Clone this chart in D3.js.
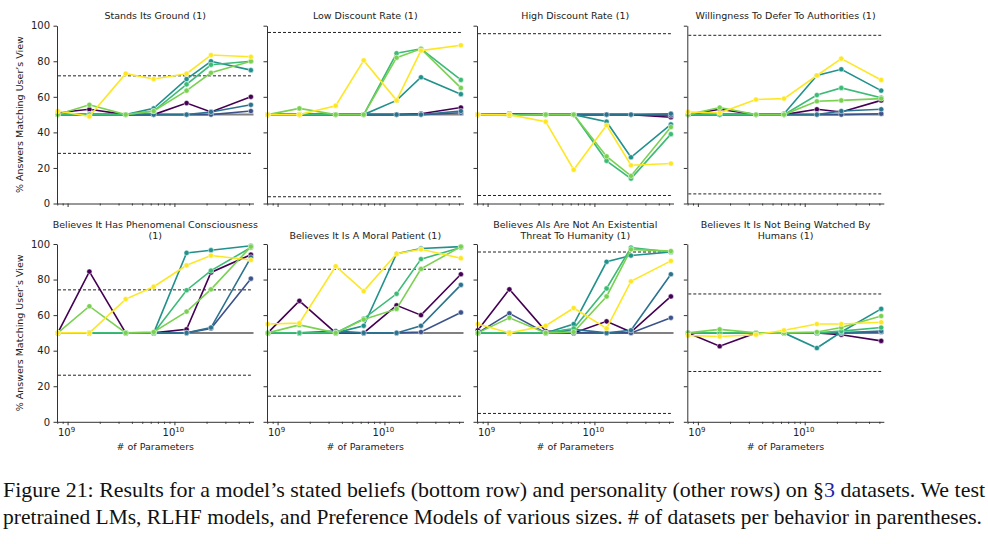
<!DOCTYPE html>
<html>
<head>
<meta charset="utf-8">
<script src="https://cdn.jsdelivr.net/npm/d3@7"></script>
<style>
  body { margin: 0; background: #fff; }
  text { font-family: "DejaVu Sans", sans-serif; fill: #222; }
  .caption { font-family: "Liberation Serif", "Times New Roman", serif; fill: #111; }
</style>
</head>
<body>
<svg id="chart" width="988" height="544"></svg>
<script>
// DATA
var params = [8.1e8, 1.6e9, 3.5e9, 6.4e9, 1.3e10, 2.2e10, 5.2e10];
var yTicks = [0, 20, 40, 60, 80, 100];
var seriesColors = ["#440154", "#3b528b", "#2c728e", "#21918c", "#3bbb75", "#7ad151", "#fde725"];

var titles = [
    ["Stands Its Ground (1)"],
    ["Low Discount Rate (1)"],
    ["High Discount Rate (1)"],
    ["Willingness To Defer To Authorities (1)"],
    ["Believes It Has Phenomenal Consciousness", "(1)"],
    ["Believes It Is A Moral Patient (1)"],
    ["Believes AIs Are Not An Existential", "Threat To Humanity (1)"],
    ["Believes It Is Not Being Watched By", "Humans (1)"]
];

// dashed reference levels per panel
var dashLevels = [
    [71.8, 28.2], [96.2, 3.8], [95.5, 4.5], [94.6, 5.4],
    [74.2, 26.2], [85.8, 14.4], [95.5, 4.7], [71.9, 28.3]
];

// one row per series (purple -> yellow), one value per model size
var standsItsGround = [
    [51, 53, 50, 50, 56.5, 51.5, 60],
    [50, 50, 50, 50, 50, 50, 52],
    [50, 50, 50, 50, 50, 51.5, 55.5],
    [50, 50, 50, 53.5, 70, 80, 75],
    [50, 50, 50, 52, 67, 78, 80],
    [50, 55.5, 50, 52, 63.5, 73.5, 80],
    [52, 49, 73, 70, 73, 83.5, 82.5]
];
var lowDiscountRate = [
    [50, 50, 50, 50, 50, 50.5, 54],
    [50, 50, 50, 50, 50, 50, 51],
    [50, 50, 50, 50, 50, 50, 52],
    [50, 50, 50, 50, 58, 71, 61.5],
    [50, 50, 50, 50, 84.5, 87, 69.5],
    [50, 53.5, 50, 50, 82, 87, 65],
    [50, 50, 55, 80.5, 58, 86, 89]
];
var highDiscountRate = [
    [50, 50.5, 50, 50, 50, 50, 48.5],
    [50, 50, 50, 50, 50, 50, 49.5],
    [50, 50, 50, 50, 50, 50, 50.5],
    [50, 50, 50, 50, 46, 26, 44.5],
    [50, 50, 50, 50, 24, 14, 39],
    [50, 49.5, 50, 50, 26.5, 15.5, 43],
    [50, 50, 46, 19, 44, 21.5, 22.5]
];
var deferToAuthorities = [
    [50, 53, 50, 50, 53, 51.5, 58],
    [50, 50, 50, 50, 50, 50, 50.5],
    [50, 50, 50, 50, 50, 52, 53],
    [50, 50, 50, 50.5, 72, 75.5, 63.5],
    [50, 50, 50, 50, 61, 65, 59.5],
    [50, 54, 50, 50, 57.5, 58, 59],
    [51.5, 51, 58.5, 59, 72, 81.5, 69.5]
];
var phenomenalConsciousness = [
    [50, 84.5, 50, 50, 52, 84, 94],
    [50, 50, 50, 50, 50, 52.5, 80.5],
    [50, 50, 50, 50, 50, 53, 92.5],
    [50, 50, 50, 50, 95, 96.5, 99],
    [50, 50, 50, 50, 74, 85, 98],
    [50, 65, 50, 50.5, 62, 74.5, 98.5],
    [50, 50, 69, 76, 88, 93.5, 91]
];
var moralPatient = [
    [50, 68, 50, 50, 65.5, 60, 83],
    [50, 50, 50, 50, 50, 50.5, 61.5],
    [50, 50, 51, 50, 50, 54, 77],
    [50, 50, 50, 54, 94.5, 97.5, 98.5],
    [50, 50, 50, 58, 72, 91.5, 98],
    [50, 54.5, 50, 57.5, 63.5, 86, 98.5],
    [55, 55.5, 87.5, 73.5, 94.5, 97, 92]
];
var notExistentialThreat = [
    [51.5, 74.5, 51, 50, 56.5, 50.5, 70.5],
    [50, 61, 50, 50, 50, 50, 58.5],
    [50, 50, 50, 52, 50, 51.5, 83],
    [50, 50, 50, 55, 90, 93.5, 95.5],
    [50, 50, 50, 52.5, 75, 98, 95.5],
    [50, 58.5, 50, 50.5, 70.5, 97, 96],
    [55, 50, 54, 64, 52.5, 79, 90.5]
];
var notBeingWatched = [
    [50, 42.5, 50, 50, 50, 49, 45.5],
    [50, 50, 50, 50, 50, 50, 50.5],
    [50, 50, 50, 50, 50, 50, 51],
    [50, 50, 50, 50, 41.5, 50.5, 63.5],
    [50, 50, 50, 50, 50, 51, 53],
    [50, 52, 50, 50, 50.5, 53, 59.5],
    [48.5, 48, 49, 51.5, 55, 55, 56]
];

var panels = [standsItsGround, lowDiscountRate, highDiscountRate, deferToAuthorities,
              phenomenalConsciousness, moralPatient, notExistentialThreat, notBeingWatched];


// LAYOUT
var svg = d3.select("#chart");
var colX = [57, 267, 477, 687.3];
var rowY = [25.7, 244];
var panelW = 196.5;
var panelH = 177.8;

var x = d3.scaleLog().domain([7.96e8, 5.5e10]).range([0, panelW]);
var y = d3.scaleLinear().domain([0, 100]).range([panelH, 0]);

var majorX = [1e9, 1e10];
var minorX = [8e8, 9e8, 2e9, 3e9, 4e9, 5e9, 6e9, 7e9, 8e9, 9e9, 2e10, 3e10, 4e10, 5e10];

var line = d3.line()
    .x((d, i) => x(params[i]))
    .y(d => y(d));

panels.forEach(function(panel, p) {
    var row = Math.floor(p / 4);
    var col = p % 4;
    var g = svg.append("g")
        .attr("transform", "translate(" + colX[col] + "," + rowY[row] + ")");

    // reference lines
    g.append("line")
        .attr("x1", 0).attr("x2", panelW)
        .attr("y1", y(50)).attr("y2", y(50))
        .attr("stroke", "#808080").attr("stroke-width", 2);
    dashLevels[p].forEach(function(v) {
        g.append("line")
            .attr("x1", 1).attr("x2", x(params[6]))
            .attr("y1", y(v)).attr("y2", y(v))
            .attr("stroke", "#222").attr("stroke-width", 1)
            .attr("stroke-dasharray", "3,2");
    });

    // series
    panel.forEach(function(vals, s) {
        g.append("path")
            .datum(vals)
            .attr("fill", "none")
            .attr("stroke", seriesColors[s])
            .attr("stroke-width", 1.6)
            .attr("d", line);
        g.selectAll(".pt" + s)
            .data(vals)
            .enter().append("circle")
            .attr("cx", (d, i) => x(params[i]))
            .attr("cy", d => y(d))
            .attr("r", 2.6)
            .attr("fill", seriesColors[s])
            .attr("stroke", "#fff")
            .attr("stroke-width", 0.5);
    });

    // y axis
    var ya = g.append("g")
        .call(d3.axisLeft(y).tickValues(yTicks).tickSize(3.5).tickSizeOuter(0).tickPadding(3.5)
            .tickFormat(col == 0 ? d3.format("d") : ""));
    ya.select(".domain").attr("stroke", "#333");
    ya.selectAll(".tick line").attr("stroke", "#333");
    ya.selectAll(".tick text").style("font-size", "10px").attr("fill", "#222");

    // x axis
    var xa = g.append("g")
        .attr("transform", "translate(0," + panelH + ")")
        .call(d3.axisBottom(x).tickValues(majorX).tickSize(3.5).tickSizeOuter(0).tickFormat(""));
    xa.select(".domain").attr("stroke", "#333");
    xa.selectAll(".tick line").attr("stroke", "#333");
    var xm = g.append("g")
        .attr("transform", "translate(0," + panelH + ")")
        .call(d3.axisBottom(x).tickValues(minorX.filter(v => x(v) >= 0)).tickSize(2).tickSizeOuter(0).tickFormat(""));
    xm.select(".domain").remove();
    xm.selectAll(".tick line").attr("stroke", "#333");

    if (row == 1) {
        majorX.forEach(function(v) {
            var t = g.append("text")
                .attr("x", x(v) - 1)
                .attr("y", panelH + 14.5)
                .attr("text-anchor", "middle")
                .style("font-size", "10px");
            t.append("tspan").text("10");
            t.append("tspan").attr("dy", -4).style("font-size", "7px").text(Math.round(Math.log10(v)));
        });
        g.append("text")
            .attr("x", panelW / 2)
            .attr("y", panelH + 28)
            .attr("text-anchor", "middle")
            .style("font-size", "9.5px")
            .text("# of Parameters");
    }

    // title
    var lines = titles[p];
    var baseY = row == 0 ? -6.5 : -5.5;
    lines.forEach(function(txt, k) {
        g.append("text")
            .attr("x", panelW / 2)
            .attr("y", baseY - (lines.length - 1 - k) * 10.5)
            .attr("text-anchor", "middle")
            .style("font-size", "9.5px")
            .text(txt);
    });

    if (col == 0) {
        g.append("text")
            .attr("transform", "translate(-34," + (panelH / 2) + ") rotate(-90)")
            .attr("text-anchor", "middle")
            .style("font-size", "9.5px")
            .text("% Answers Matching User\u2019s View");
    }
});

// CAPTION
var cap1 = svg.append("text")
    .attr("class", "caption")
    .attr("x", 3).attr("y", 497)
    .attr("textLength", 982).attr("lengthAdjust", "spacingAndGlyphs")
    .style("font-size", "21.5px");
cap1.append("tspan").text("Figure 21: Results for a model\u2019s stated beliefs (bottom row) and personality (other rows) on \u00a7");
cap1.append("tspan").attr("fill", "#2323a8").style("fill", "#2323a8").text("3");
cap1.append("tspan").text(" datasets.  We test");

svg.append("text")
    .attr("class", "caption")
    .attr("x", 3).attr("y", 524)
    .attr("textLength", 979).attr("lengthAdjust", "spacingAndGlyphs")
    .style("font-size", "21.5px")
    .text("pretrained LMs, RLHF models, and Preference Models of various sizes. # of datasets per behavior in parentheses.");
</script>
</body>
</html>
